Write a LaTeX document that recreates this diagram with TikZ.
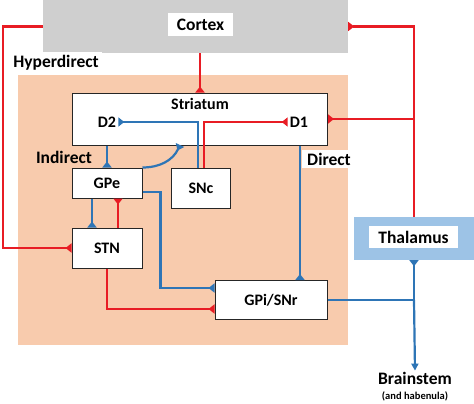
\documentclass[tikz,border=0pt]{standalone}
\usepackage{fontspec}
\setmainfont{Carlito}
\usetikzlibrary{arrows.meta}

\definecolor{ctxgray}{RGB}{207,207,207}
\definecolor{bgsalmon}{RGB}{248,203,173}
\definecolor{thalblue}{RGB}{157,195,230}
\definecolor{exred}{RGB}{232,28,36}
\definecolor{inblue}{RGB}{46,117,182}

\tikzset{
  bigfont/.style={font=\fontsize{17.5}{20}\selectfont\bfseries},
  lbl/.style={font=\fontsize{16}{19}\selectfont\bfseries, inner sep=2pt},
  box/.style={lbl, draw=black!85, line width=1pt, fill=white, inner sep=0pt},
  syn/.style={line width=2.2pt, -{Triangle[reversed, width=9pt, length=6pt]}},
  exc/.style={syn, draw=exred, color=exred},
  inh/.style={syn, draw=inblue, color=inblue},
}

\begin{document}
\begin{tikzpicture}[x=1pt, y=-1pt]
    \useasboundingbox (0,0) rectangle (474,404);

    % Areas
    \node (basal) [fill=bgsalmon, minimum width=330, minimum height=270, inner sep=0] at (183,210) {};
    \node (cortexbg) [fill=ctxgray, minimum width=305, minimum height=53, inner sep=0] at (195.5,26.5) {};
    \node (cortex) [bigfont, fill=white, minimum width=65, minimum height=23, inner sep=0] at (200.5,24.5) {Cortex};
    \node (hyper) [bigfont, fill=white] at (56,63) {Hyperdirect};
    \node (thalamus) [fill=thalblue, minimum width=120, minimum height=43, inner sep=0] at (414,238.5) {};
    \node (thallabel) [bigfont, fill=white, minimum width=89, minimum height=22, inner sep=0] at (413.5,237) {Thalamus};

    % Nuclei
    \node (striatum) [box, minimum width=255, minimum height=52] at (200,119) {};
    \node (strlabel) [lbl] at (200,104) {Striatum};
    \node (d2) [lbl] at (107,122) {D2};
    \node (d1) [lbl] at (299,122) {D1};
    \node (gpe) [box, minimum width=70, minimum height=30] at (107,183) {GPe};
    \node (snc) [box, minimum width=59, minimum height=40] at (201,188) {SNc};
    \node (stn) [box, minimum width=70, minimum height=40] at (107,248) {STN};
    \node (gpi) [box, minimum width=112, minimum height=39] at (271,300) {GPi/SNr};

    % Pathway names and outputs
    \node (indirect) [bigfont] at (64,157) {Indirect};
    \node (direct) [bigfont, fill=white, minimum width=54, minimum height=18, inner sep=0] at (329,159) {Direct};
    \node (brainstem) [bigfont, inner sep=1pt] at (415,378) {Brainstem};
    \node (habenula) [font=\fontsize{10.5}{12}\selectfont\bfseries] at (415,396) {(and habenula)};

    % Hyperdirect
    \draw[exc] (cortexbg.west) -- ++(-40,0) |- (stn.west);

    % Cortex and thalamus to striatum
    \draw[exc] (cortexbg.south -| striatum.north) -- (striatum.north);
    \draw[exc] (thalamus.north) |- (cortexbg.east);
    \draw[exc] (thalamus.north |- striatum.east) -- (striatum.east);

    % Dopamine
    \draw[inh] ([xshift=-3]snc.north) |- (d2.east);
    \draw[exc] ([xshift=3]snc.north) |- (d1.west);

    % Indirect
    \coordinate (strgpe) at (180,145);
    \draw[inh] (striatum.south -| gpe.north) -- (gpe.north);
    \draw[inh] (gpe.north east) to[out=0, in=-115] (strgpe);
    \draw[inh] ([xshift=-15]gpe.south) -- ([xshift=-15]stn.north);
    \draw[exc] ([xshift=11]stn.north) -- ([xshift=11]gpe.south);
    \draw[inh] ([yshift=-9]gpe.east) -- ++(18,0) |- ([yshift=12]gpi.west);
    \draw[exc] (stn.south) |- ([yshift=-9]gpi.west);

    % Direct
    \path ([xshift=29]gpi.north) coordinate (directend);
    \draw[inh] (directend |- striatum.south) -- (directend);

    % Output
    \draw[inh, -] (gpi.east) -- (gpi.east -| thalamus.south) coordinate (gpiout);
    \draw[inh] (gpiout) -- (thalamus.south);
    \draw[inh, -{Triangle[width=7pt, length=7pt]}] (gpiout) -- (brainstem.north);
\end{tikzpicture}
\end{document}
